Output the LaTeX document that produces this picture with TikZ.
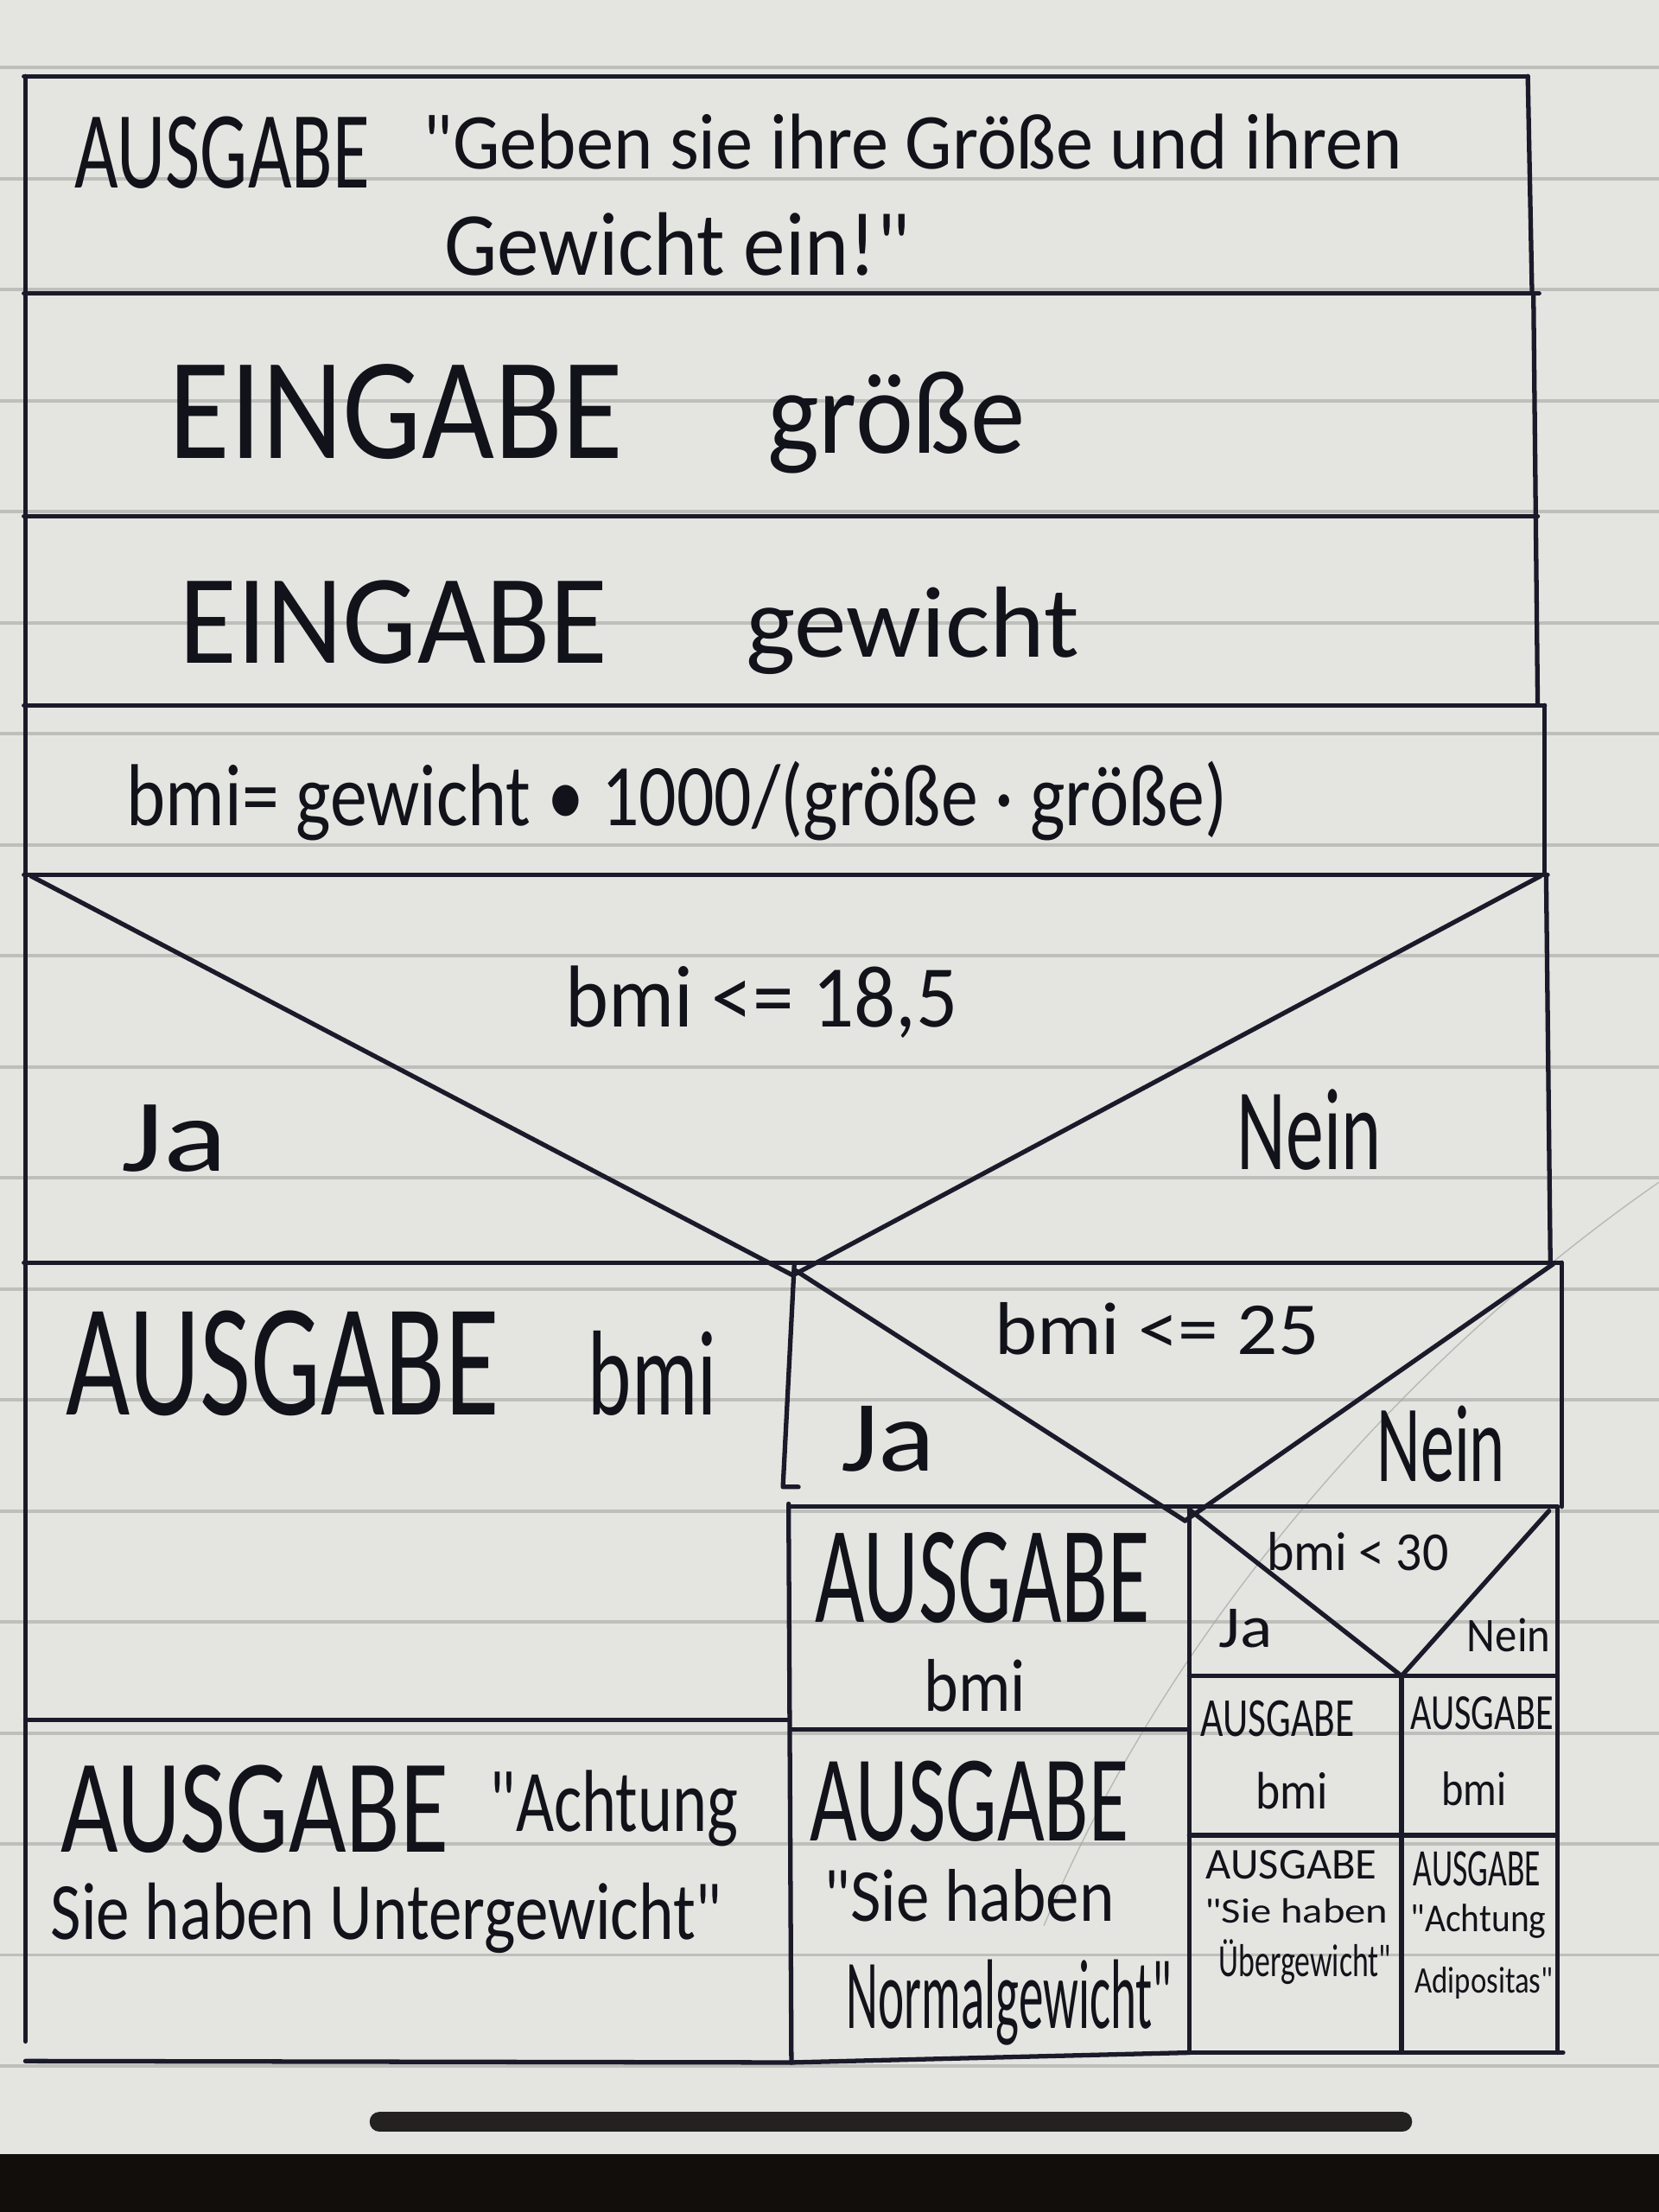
\documentclass[tikz,border=0pt]{standalone}
\usepackage{fontspec}
\usepackage{graphicx}
\setmainfont{Carlito}[Ligatures=TeXOff]
\definecolor{paper}{RGB}{228,229,224}
\definecolor{rule}{RGB}{190,191,187}
\definecolor{ink}{RGB}{26,26,42}
\definecolor{inkt}{RGB}{18,18,26}
\definecolor{bezel}{RGB}{17,14,12}
\definecolor{homebar}{RGB}{36,33,33}
\newsavebox\txbox
\newsavebox\capbox
\newlength\txw
\newlength\txh
\newlength\pxl
\setlength\pxl{0.0163265cm}
% \tx{width in px}{cap height in px}{text}
\newcommand\tx[3]{%
  \sbox\txbox{#3}\sbox\capbox{H}%
  \setlength\txw{\wd\txbox}\setlength\txh{\ht\capbox}%
  \pgfmathsetmacro\txsx{#1*\pxl/\txw}%
  \pgfmathsetmacro\txsy{#2*\pxl/\txh}%
  \scalebox{\txsx}[\txsy]{\usebox\txbox}}
\tikzset{
  inkline/.style={draw=ink, line width=1.5pt, line cap=round, line join=round},
  txt/.style={inner sep=0pt, outer sep=0pt, anchor=base west, text=inkt},
  ruleline/.style={draw=rule, line width=1.1pt},
}
\begin{document}
\begin{tikzpicture}[x=0.0163265cm, y=-0.0163265cm]
\useasboundingbox (0,0) rectangle (1176,1568);
\fill[paper] (0,0) rectangle (1176,1568);
% ruled paper lines
\foreach \k in {-3,...,15} {
  \draw[ruleline] (0,{284+78.7*\k}) -- (1176,{284+78.7*\k});
}
% screen scratch
\draw[gray!70, line width=0.4pt, opacity=0.7] (1176,838) .. controls (1000,960) and (830,1150) .. (740,1365);
% bezel and home bar
\fill[bezel] (0,1527) rectangle (1176,1568);
\fill[homebar, rounded corners=3.2pt] (262,1497) rectangle (1001,1511);

% ---------- structure ----------
% outer left edge
\draw[inkline] (18,54) -- (18,1447);
% horizontal rows
\draw[inkline] (17,54) -- (1083,54);
\draw[inkline] (17,208) -- (1091,208);
\draw[inkline] (17,366) -- (1090,366);
\draw[inkline] (17,500) -- (1095,500);
\draw[inkline] (17,620) -- (1097,620);
\draw[inkline] (17,895) -- (1106,895);
% right edges
\draw[inkline] (1083,54) -- (1086,208);
\draw[inkline] (1087,208) -- (1090,500);
\draw[inkline] (1095,500) -- (1095,620);
\draw[inkline] (1096,620) -- (1099,895);
\draw[inkline] (1107,895) -- (1107,1068);
\draw[inkline] (1104,1068) -- (1104,1455);
% decision 1
\draw[inkline] (22,621) -- (562,904);
\draw[inkline] (1092,621) -- (562,904);
% left column
\draw[inkline] (18,1219) -- (559,1219);
\draw[inkline] (18,1461) -- (561,1462);
% decision 2
\draw[inkline] (563,897) -- (555,1054) -- (566,1054);
\draw[inkline] (559,1066) -- (561,1462);
\draw[inkline] (561,1068) -- (1104,1068);
\draw[inkline] (563,900) -- (840,1078);
\draw[inkline] (1101,896) -- (840,1078);
% middle column
\draw[inkline] (561,1226) -- (843,1226);
\draw[inkline] (561,1462) -- (843,1455);
% decision 3
\draw[inkline] (843,1068) -- (843,1455);
\draw[inkline] (843,1070) -- (993.5,1188);
\draw[inkline] (1098,1071) -- (993.5,1188);
\draw[inkline] (843,1188) -- (1104,1188);
\draw[inkline] (993.5,1188) -- (993.5,1455);
\draw[inkline] (843,1301) -- (1104,1301);
\draw[inkline] (843,1455) -- (1108,1455);

% ---------- texts ----------
\node[txt] (t1a) at (53,133) {\tx{209}{50}{AUSGABE}};
\node[txt] (t1b) at (300,120) {\tx{694}{36}{"Geben sie ihre Größe und ihren}};
\node[txt] (t2) at (315,195) {\tx{330}{41}{Gewicht ein!"}};
\node[txt] (t3a) at (120,325) {\tx{322}{66}{EINGABE}};
\node[txt] (t3b) at (544,321) {\tx{183}{54}{größe}};
\node[txt] (t4a) at (127,470) {\tx{304}{58}{EINGABE}};
\node[txt] (t4b) at (529,466) {\tx{236}{46}{gewicht}};
\node[txt] (t5) at (90,585) {\tx{780}{40}{bmi= gewicht • 1000/(größe · größe)}};
\node[txt] (t6) at (401,728) {\tx{278}{40}{bmi <= 18,5}};
\node[txt] (t7) at (86,830) {\tx{75}{47}{Ja}};
\node[txt] (t8) at (877,829) {\tx{102}{53}{Nein}};
\node[txt] (t9a) at (47,1003) {\tx{307}{73}{AUSGABE}};
\node[txt] (t9b) at (417,1003) {\tx{91}{55}{bmi}};
\node[txt] (t10a) at (43,1313) {\tx{275}{61}{AUSGABE}};
\node[txt] (t10b) at (347,1298) {\tx{176}{40}{"Achtung}};
\node[txt] (t11) at (36,1375) {\tx{476}{37}{Sie haben Untergewicht"}};
\node[txt] (t12) at (705,960) {\tx{230}{34}{bmi <= 25}};
\node[txt] (t13) at (596,1043) {\tx{67}{46}{Ja}};
\node[txt] (t14) at (976,1050) {\tx{91}{50}{Nein}};
\node[txt] (t15a) at (578,1150) {\tx{237}{63}{AUSGABE}};
\node[txt] (t15b) at (655,1213) {\tx{72}{34}{bmi}};
\node[txt] (t16a) at (574,1305) {\tx{226}{56}{AUSGABE}};
\node[txt] (t16b) at (584,1362) {\tx{206}{34}{"Sie haben}};
\node[txt] (t16c) at (600,1438) {\tx{231}{45}{Normalgewicht"}};
\node[txt] (t17) at (898,1113) {\tx{129}{25}{bmi < 30}};
\node[txt] (t18) at (864,1168) {\tx{38}{27}{Ja}};
\node[txt] (t19) at (1040,1171) {\tx{59}{22}{Nein}};
\node[txt] (t20a) at (851,1231) {\tx{109}{25}{AUSGABE}};
\node[txt] (t20b) at (890,1282) {\tx{51}{24}{bmi}};
\node[txt] (t21a) at (1000,1226) {\tx{101}{23}{AUSGABE}};
\node[txt] (t21b) at (1022,1280) {\tx{46}{22}{bmi}};
\node[txt] (t22a) at (855,1332) {\tx{121}{20}{AUSGABE}};
\node[txt] (t22b) at (854,1363) {\tx{130}{16}{"Sie haben}};
\node[txt] (t22c) at (864,1401) {\tx{122}{21}{Übergewicht"}};
\node[txt] (t23a) at (1002,1337) {\tx{90}{24}{AUSGABE}};
\node[txt] (t23b) at (1000,1369) {\tx{96}{18}{"Achtung}};
\node[txt] (t23c) at (1003,1413) {\tx{98}{17}{Adipositas"}};
\end{tikzpicture}
\end{document}
